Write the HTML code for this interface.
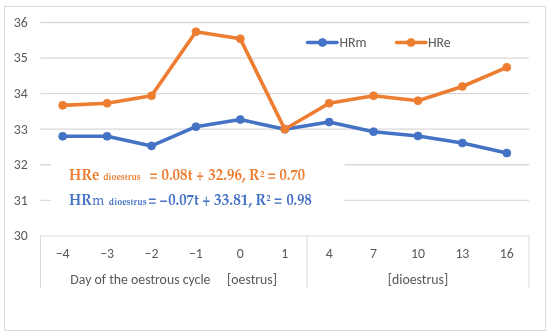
<!DOCTYPE html>
<html><head><meta charset="utf-8"><style>
html,body{margin:0;padding:0;background:#fff;}
body{width:550px;height:336px;overflow:hidden;}
svg{display:block;}
.ax{font-family:Carlito,"Liberation Sans",sans-serif;font-size:13.8px;fill:#595959;}
.eq{font-family:"TeX Gyre Pagella","Liberation Serif",serif;}
</style></head><body>
<svg width="550" height="336" viewBox="0 0 550 336">
<rect x="4.5" y="6.5" width="541" height="324" fill="#fff" stroke="#D9D9D9" stroke-width="1"/>
<line x1="40.5" x2="529.0" y1="22.48" y2="22.48" stroke="#D9D9D9" stroke-width="1.3"/>
<line x1="40.5" x2="529.0" y1="58.05" y2="58.05" stroke="#D9D9D9" stroke-width="1.3"/>
<line x1="40.5" x2="529.0" y1="93.62" y2="93.62" stroke="#D9D9D9" stroke-width="1.3"/>
<line x1="40.5" x2="529.0" y1="129.19" y2="129.19" stroke="#D9D9D9" stroke-width="1.3"/>
<line x1="40.5" x2="529.0" y1="164.76" y2="164.76" stroke="#D9D9D9" stroke-width="1.3"/>
<line x1="40.5" x2="529.0" y1="200.33" y2="200.33" stroke="#D9D9D9" stroke-width="1.3"/>
<line x1="40.5" x2="529.0" y1="235.90" y2="235.90" stroke="#D9D9D9" stroke-width="1"/>
<line x1="40.50" x2="40.50" y1="235.90" y2="288" stroke="#D9D9D9" stroke-width="1"/>
<line x1="306.95" x2="306.95" y1="235.90" y2="288" stroke="#D9D9D9" stroke-width="1"/>
<line x1="529.00" x2="529.00" y1="235.90" y2="288" stroke="#D9D9D9" stroke-width="1"/>
<rect x="51" y="156" width="293.6" height="56" fill="#fff"/>
<text x="27.8" y="26.88" text-anchor="end" textLength="14.00" lengthAdjust="spacingAndGlyphs" class="ax">36</text>
<text x="27.8" y="62.45" text-anchor="end" textLength="14.00" lengthAdjust="spacingAndGlyphs" class="ax">35</text>
<text x="27.8" y="98.02" text-anchor="end" textLength="14.00" lengthAdjust="spacingAndGlyphs" class="ax">34</text>
<text x="27.8" y="133.59" text-anchor="end" textLength="14.00" lengthAdjust="spacingAndGlyphs" class="ax">33</text>
<text x="27.8" y="169.16" text-anchor="end" textLength="14.00" lengthAdjust="spacingAndGlyphs" class="ax">32</text>
<text x="27.8" y="204.73" text-anchor="end" textLength="14.00" lengthAdjust="spacingAndGlyphs" class="ax">31</text>
<text x="27.8" y="240.30" text-anchor="end" textLength="14.00" lengthAdjust="spacingAndGlyphs" class="ax">30</text>
<text x="62.70" y="257.8" text-anchor="middle" textLength="13.88" lengthAdjust="spacingAndGlyphs" class="ax">−4</text>
<text x="107.11" y="257.8" text-anchor="middle" textLength="13.88" lengthAdjust="spacingAndGlyphs" class="ax">−3</text>
<text x="151.52" y="257.8" text-anchor="middle" textLength="13.88" lengthAdjust="spacingAndGlyphs" class="ax">−2</text>
<text x="195.93" y="257.8" text-anchor="middle" textLength="13.88" lengthAdjust="spacingAndGlyphs" class="ax">−1</text>
<text x="240.34" y="257.8" text-anchor="middle" textLength="7.00" lengthAdjust="spacingAndGlyphs" class="ax">0</text>
<text x="284.75" y="257.8" text-anchor="middle" textLength="7.00" lengthAdjust="spacingAndGlyphs" class="ax">1</text>
<text x="329.16" y="257.8" text-anchor="middle" textLength="7.00" lengthAdjust="spacingAndGlyphs" class="ax">4</text>
<text x="373.57" y="257.8" text-anchor="middle" textLength="7.00" lengthAdjust="spacingAndGlyphs" class="ax">7</text>
<text x="417.98" y="257.8" text-anchor="middle" textLength="14.00" lengthAdjust="spacingAndGlyphs" class="ax">10</text>
<text x="462.39" y="257.8" text-anchor="middle" textLength="14.00" lengthAdjust="spacingAndGlyphs" class="ax">13</text>
<text x="506.80" y="257.8" text-anchor="middle" textLength="14.00" lengthAdjust="spacingAndGlyphs" class="ax">16</text>
<text x="140.4" y="283.6" text-anchor="middle" textLength="140.08" lengthAdjust="spacingAndGlyphs" class="ax">Day of the oestrous cycle</text>
<text x="252" y="283.6" text-anchor="middle" textLength="49.92" lengthAdjust="spacingAndGlyphs" class="ax">[oestrus]</text>
<text x="417.98" y="283.6" text-anchor="middle" textLength="60.34" lengthAdjust="spacingAndGlyphs" class="ax">[dioestrus]</text>
<polyline points="62.70,136.30 107.11,136.30 151.52,145.91 195.93,126.70 240.34,119.59 284.75,129.19 329.16,122.08 373.57,131.68 417.98,135.95 462.39,143.06 506.80,153.02" fill="none" stroke="#4472C4" stroke-width="3.6" stroke-linejoin="round" stroke-linecap="round"/>
<circle cx="62.70" cy="136.30" r="4" fill="#4472C4" stroke="#4472C4" stroke-width="0.75"/>
<circle cx="107.11" cy="136.30" r="4" fill="#4472C4" stroke="#4472C4" stroke-width="0.75"/>
<circle cx="151.52" cy="145.91" r="4" fill="#4472C4" stroke="#4472C4" stroke-width="0.75"/>
<circle cx="195.93" cy="126.70" r="4" fill="#4472C4" stroke="#4472C4" stroke-width="0.75"/>
<circle cx="240.34" cy="119.59" r="4" fill="#4472C4" stroke="#4472C4" stroke-width="0.75"/>
<circle cx="284.75" cy="129.19" r="4" fill="#4472C4" stroke="#4472C4" stroke-width="0.75"/>
<circle cx="329.16" cy="122.08" r="4" fill="#4472C4" stroke="#4472C4" stroke-width="0.75"/>
<circle cx="373.57" cy="131.68" r="4" fill="#4472C4" stroke="#4472C4" stroke-width="0.75"/>
<circle cx="417.98" cy="135.95" r="4" fill="#4472C4" stroke="#4472C4" stroke-width="0.75"/>
<circle cx="462.39" cy="143.06" r="4" fill="#4472C4" stroke="#4472C4" stroke-width="0.75"/>
<circle cx="506.80" cy="153.02" r="4" fill="#4472C4" stroke="#4472C4" stroke-width="0.75"/>
<polyline points="62.70,105.36 107.11,103.22 151.52,95.75 195.93,31.73 240.34,38.84 284.75,129.19 329.16,103.22 373.57,95.75 417.98,100.73 462.39,86.51 506.80,67.30" fill="none" stroke="#ED7D31" stroke-width="3.6" stroke-linejoin="round" stroke-linecap="round"/>
<circle cx="62.70" cy="105.36" r="4" fill="#ED7D31" stroke="#ED7D31" stroke-width="0.75"/>
<circle cx="107.11" cy="103.22" r="4" fill="#ED7D31" stroke="#ED7D31" stroke-width="0.75"/>
<circle cx="151.52" cy="95.75" r="4" fill="#ED7D31" stroke="#ED7D31" stroke-width="0.75"/>
<circle cx="195.93" cy="31.73" r="4" fill="#ED7D31" stroke="#ED7D31" stroke-width="0.75"/>
<circle cx="240.34" cy="38.84" r="4" fill="#ED7D31" stroke="#ED7D31" stroke-width="0.75"/>
<circle cx="284.75" cy="129.19" r="4" fill="#ED7D31" stroke="#ED7D31" stroke-width="0.75"/>
<circle cx="329.16" cy="103.22" r="4" fill="#ED7D31" stroke="#ED7D31" stroke-width="0.75"/>
<circle cx="373.57" cy="95.75" r="4" fill="#ED7D31" stroke="#ED7D31" stroke-width="0.75"/>
<circle cx="417.98" cy="100.73" r="4" fill="#ED7D31" stroke="#ED7D31" stroke-width="0.75"/>
<circle cx="462.39" cy="86.51" r="4" fill="#ED7D31" stroke="#ED7D31" stroke-width="0.75"/>
<circle cx="506.80" cy="67.30" r="4" fill="#ED7D31" stroke="#ED7D31" stroke-width="0.75"/>
<line x1="307.5" x2="337" y1="42.5" y2="42.5" stroke="#4472C4" stroke-width="3.5" stroke-linecap="round"/>
<circle cx="322.5" cy="42.5" r="4" fill="#4472C4" stroke="#4472C4" stroke-width="0.75"/>
<text x="339.5" y="46.8" textLength="27.11" lengthAdjust="spacingAndGlyphs" class="ax">HRm</text>
<line x1="396.5" x2="426" y1="42.5" y2="42.5" stroke="#ED7D31" stroke-width="3.5" stroke-linecap="round"/>
<circle cx="411" cy="42.5" r="4" fill="#ED7D31" stroke="#ED7D31" stroke-width="0.75"/>
<text x="428" y="46.8" textLength="22.72" lengthAdjust="spacingAndGlyphs" class="ax">HRe</text>
<text x="69.10" y="180.3" textLength="30.17" lengthAdjust="spacingAndGlyphs" class="eq" style="font-size:15.5px;font-weight:bold" fill="#ED7D31" xml:space="preserve">HRe</text>
<text x="103.20" y="180.3" textLength="37.52" lengthAdjust="spacingAndGlyphs" class="eq" style="font-size:9px;font-weight:bold" fill="#ED7D31" xml:space="preserve">dioestrus</text>
<text x="149.27" y="180.3" textLength="8.60" lengthAdjust="spacingAndGlyphs" class="eq" style="font-size:15.5px;font-weight:bold" fill="#ED7D31" xml:space="preserve">=</text>
<text x="161.40" y="180.3" textLength="31.19" lengthAdjust="spacingAndGlyphs" class="eq" style="font-size:15.5px;font-weight:bold" fill="#ED7D31" xml:space="preserve">0.08t</text>
<text x="196.12" y="180.3" textLength="8.01" lengthAdjust="spacingAndGlyphs" class="eq" style="font-size:15.5px;font-weight:bold" fill="#ED7D31" xml:space="preserve">+</text>
<text x="208.20" y="180.3" textLength="37.65" lengthAdjust="spacingAndGlyphs" class="eq" style="font-size:15.5px;font-weight:bold" fill="#ED7D31" xml:space="preserve">32.96,</text>
<text x="248.96" y="180.3" textLength="10.53" lengthAdjust="spacingAndGlyphs" class="eq" style="font-size:15.5px;font-weight:bold" fill="#ED7D31" xml:space="preserve">R</text>
<text x="260.20" y="176.6" textLength="4.29" lengthAdjust="spacingAndGlyphs" class="eq" style="font-size:9px;font-weight:bold" fill="#ED7D31" xml:space="preserve">2</text>
<text x="267.24" y="180.3" textLength="8.95" lengthAdjust="spacingAndGlyphs" class="eq" style="font-size:15.5px;font-weight:bold" fill="#ED7D31" xml:space="preserve">=</text>
<text x="279.50" y="180.3" textLength="25.53" lengthAdjust="spacingAndGlyphs" class="eq" style="font-size:15.5px;font-weight:bold" fill="#ED7D31" xml:space="preserve">0.70</text>
<text x="69.10" y="204.6" textLength="22.80" lengthAdjust="spacingAndGlyphs" class="eq" style="font-size:15.5px;font-weight:bold" fill="#4472C4" xml:space="preserve">HR</text>
<text x="92.30" y="204.6" textLength="12.03" lengthAdjust="spacingAndGlyphs" class="eq" style="font-size:15px;font-weight:normal" fill="#4472C4" xml:space="preserve">m</text>
<text x="108.80" y="204.6" textLength="37.82" lengthAdjust="spacingAndGlyphs" class="eq" style="font-size:9px;font-weight:bold" fill="#4472C4" xml:space="preserve">dioestrus</text>
<text x="148.07" y="204.6" textLength="8.60" lengthAdjust="spacingAndGlyphs" class="eq" style="font-size:15.5px;font-weight:bold" fill="#4472C4" xml:space="preserve">=</text>
<text x="159.27" y="204.6" textLength="8.60" lengthAdjust="spacingAndGlyphs" class="eq" style="font-size:15.5px;font-weight:bold" fill="#4472C4" xml:space="preserve">−</text>
<text x="168.20" y="204.6" textLength="30.69" lengthAdjust="spacingAndGlyphs" class="eq" style="font-size:15.5px;font-weight:bold" fill="#4472C4" xml:space="preserve">0.07t</text>
<text x="201.97" y="204.6" textLength="8.60" lengthAdjust="spacingAndGlyphs" class="eq" style="font-size:15.5px;font-weight:bold" fill="#4472C4" xml:space="preserve">+</text>
<text x="214.10" y="204.6" textLength="38.16" lengthAdjust="spacingAndGlyphs" class="eq" style="font-size:15.5px;font-weight:bold" fill="#4472C4" xml:space="preserve">33.81,</text>
<text x="255.56" y="204.6" textLength="10.53" lengthAdjust="spacingAndGlyphs" class="eq" style="font-size:15.5px;font-weight:bold" fill="#4472C4" xml:space="preserve">R</text>
<text x="266.40" y="200.8" textLength="4.07" lengthAdjust="spacingAndGlyphs" class="eq" style="font-size:9px;font-weight:bold" fill="#4472C4" xml:space="preserve">2</text>
<text x="273.77" y="204.6" textLength="8.60" lengthAdjust="spacingAndGlyphs" class="eq" style="font-size:15.5px;font-weight:bold" fill="#4472C4" xml:space="preserve">=</text>
<text x="286.40" y="204.6" textLength="25.33" lengthAdjust="spacingAndGlyphs" class="eq" style="font-size:15.5px;font-weight:bold" fill="#4472C4" xml:space="preserve">0.98</text>
</svg>
</body></html>
